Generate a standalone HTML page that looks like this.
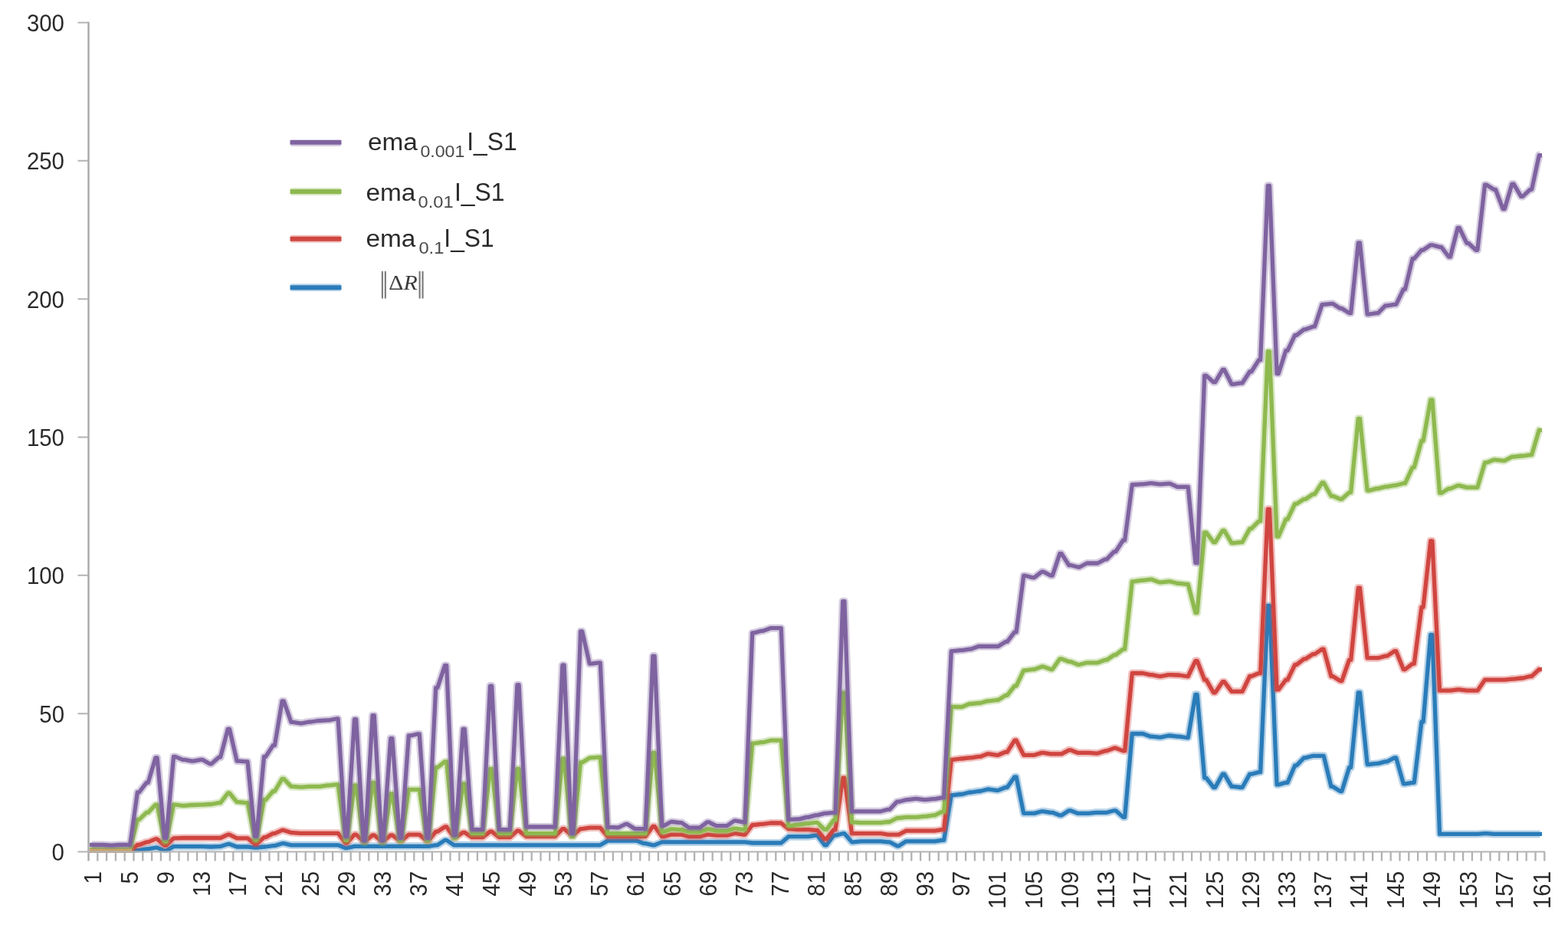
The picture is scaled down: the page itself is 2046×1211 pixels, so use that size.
<!DOCTYPE html>
<html lang="en">
<head>
<meta charset="utf-8">
<title>ema I_S1 chart</title>
<style>
html,body{margin:0;padding:0;background:#fff;}
body{width:2046px;height:1211px;overflow:hidden;}
svg{display:block;}
text{font-family:"Liberation Sans",sans-serif;fill:#2b2b2b;}
.ax{font-size:31px;}
.lg{font-size:31px;}
.sub{font-size:22px;fill:#4a4a4a;}
.cap{font-size:33px;}
.math{font-family:"Liberation Serif",serif;font-size:27.5px;fill:#3a3a3a;}
.bar{font-family:"DejaVu Sans","Liberation Sans",sans-serif;font-size:36px;fill:#777;}
.ln{fill:none;stroke-width:5.3;stroke-linejoin:round;stroke-linecap:square;}
.hl{stroke-width:10px;stroke-opacity:0.33;stroke-linecap:butt;}
</style>
</head>
<body>
<svg width="2046" height="1211" viewBox="0 0 2046 1211">
<defs><filter id="soft" x="-2%" y="-2%" width="104%" height="104%"><feGaussianBlur stdDeviation="0.55"/></filter><filter id="softa" x="-2%" y="-2%" width="104%" height="104%"><feGaussianBlur stdDeviation="0.7"/></filter><filter id="softt" x="-5%" y="-5%" width="110%" height="110%"><feGaussianBlur stdDeviation="0.6"/></filter><clipPath id="plot"><rect x="115.5" y="0" width="1930.5" height="1112.7"/></clipPath></defs>
<rect width="2046" height="1211" fill="#ffffff"/>
<g filter="url(#soft)" clip-path="url(#plot)">
<path class="ln hl" stroke="#2c7cb9" d="M119.7 1111.5 L122.5 1111.5 L132.1 1111.5 L134.3 1111.5 L143.9 1111.5 L146.1 1111.5 L155.7 1111.5 L157.9 1111.5 L167.5 1111.5 L169.7 1111.5 L179.3 1109.7 L181.5 1109.7 L191.1 1107.9 L193.3 1107.9 L202.9 1106.1 L205.1 1106.1 L214.7 1110.1 L216.9 1110.1 L226.5 1104.6 L228.7 1104.6 L238.3 1104.6 L240.5 1104.6 L250.1 1104.6 L252.3 1104.6 L261.9 1104.6 L264.1 1104.6 L273.7 1105.0 L275.9 1105.0 L285.5 1104.6 L287.7 1104.6 L297.3 1101.4 L299.5 1101.4 L309.1 1105.0 L311.3 1105.0 L320.9 1105.0 L323.1 1105.0 L332.7 1106.1 L334.9 1106.1 L344.5 1105.0 L346.7 1105.0 L356.3 1103.6 L358.5 1103.6 L368.1 1100.7 L370.3 1100.7 L379.9 1102.8 L382.1 1102.8 L391.7 1102.8 L393.9 1102.8 L403.5 1102.8 L405.7 1102.8 L415.3 1102.8 L417.5 1102.8 L427.1 1102.8 L429.3 1102.8 L438.9 1102.8 L441.1 1102.8 L450.7 1106.5 L452.9 1106.5 L462.5 1104.3 L464.7 1104.3 L474.3 1104.3 L476.5 1104.3 L486.1 1104.3 L488.3 1104.3 L497.9 1104.3 L500.1 1104.3 L509.7 1104.3 L511.9 1104.3 L521.5 1104.3 L523.7 1104.3 L533.3 1104.3 L535.5 1104.3 L545.1 1104.3 L547.3 1104.3 L556.9 1104.3 L559.1 1104.3 L568.7 1102.8 L570.9 1102.8 L580.5 1096.4 L582.7 1096.4 L592.3 1102.8 L594.5 1102.8 L604.1 1102.8 L606.3 1102.8 L615.9 1102.8 L618.1 1102.8 L627.7 1102.8 L629.9 1102.8 L639.5 1102.8 L641.7 1102.8 L651.3 1102.8 L653.5 1102.8 L663.1 1102.8 L665.3 1102.8 L674.9 1102.8 L677.1 1102.8 L686.7 1102.8 L688.9 1102.8 L698.5 1102.8 L700.7 1102.8 L710.3 1102.8 L712.5 1102.8 L722.1 1102.8 L724.3 1102.8 L733.9 1102.8 L736.1 1102.8 L745.7 1102.8 L747.9 1102.8 L757.5 1102.8 L759.7 1102.8 L769.3 1102.8 L771.5 1102.8 L781.1 1102.8 L783.3 1102.8 L792.9 1097.1 L795.1 1097.1 L804.7 1097.1 L806.9 1097.1 L816.5 1097.1 L818.7 1097.1 L828.3 1097.1 L830.5 1097.1 L840.1 1100.7 L842.3 1100.7 L851.9 1102.8 L854.1 1102.8 L863.7 1098.9 L865.9 1098.9 L875.5 1098.9 L877.7 1098.9 L887.3 1098.9 L889.5 1098.9 L899.1 1098.9 L901.3 1098.9 L910.9 1098.9 L913.1 1098.9 L922.7 1098.9 L924.9 1098.9 L934.5 1098.9 L936.7 1098.9 L946.3 1098.9 L948.5 1098.9 L958.1 1098.9 L960.3 1098.9 L969.9 1098.9 L972.1 1098.9 L981.7 1100.0 L983.9 1100.0 L993.5 1100.0 L995.7 1100.0 L1005.3 1100.0 L1007.5 1100.0 L1017.1 1100.0 L1019.3 1100.0 L1028.9 1091.7 L1031.1 1091.7 L1040.7 1091.7 L1042.9 1091.7 L1052.5 1091.7 L1054.7 1091.7 L1064.3 1090.2 L1066.5 1090.2 L1076.1 1102.8 L1078.3 1102.8 L1087.9 1090.2 L1090.1 1090.2 L1099.7 1087.7 L1101.9 1087.7 L1111.5 1098.9 L1113.7 1098.9 L1123.3 1097.8 L1125.5 1097.8 L1135.1 1097.8 L1137.3 1097.8 L1146.9 1097.8 L1149.1 1097.8 L1158.7 1098.9 L1160.9 1098.9 L1170.5 1103.9 L1172.7 1103.9 L1182.3 1097.8 L1184.5 1097.8 L1194.1 1097.8 L1196.3 1097.8 L1205.9 1097.8 L1208.1 1097.8 L1217.7 1097.8 L1219.9 1097.8 L1229.5 1096.4 L1231.7 1096.4 L1241.3 1037.6 L1243.5 1037.6 L1253.1 1036.5 L1255.3 1036.5 L1264.9 1034.0 L1267.1 1034.0 L1276.7 1032.5 L1278.9 1032.5 L1288.5 1030.0 L1290.7 1030.0 L1300.3 1031.4 L1302.5 1031.4 L1312.1 1027.5 L1314.3 1027.5 L1323.9 1013.8 L1326.1 1013.8 L1335.7 1061.4 L1337.9 1061.4 L1347.5 1061.4 L1349.7 1061.4 L1359.3 1058.8 L1361.5 1058.8 L1371.1 1060.3 L1373.3 1060.3 L1382.9 1063.9 L1385.1 1063.9 L1394.7 1057.8 L1396.9 1057.8 L1406.5 1061.4 L1408.7 1061.4 L1418.3 1061.4 L1420.5 1061.4 L1430.1 1060.3 L1432.3 1060.3 L1441.9 1060.3 L1444.1 1060.3 L1453.7 1057.8 L1455.9 1057.8 L1465.5 1066.4 L1467.7 1066.4 L1477.3 957.5 L1479.5 957.5 L1489.1 957.5 L1491.3 957.5 L1500.9 961.1 L1503.1 961.1 L1512.7 962.2 L1514.9 962.2 L1524.5 960.0 L1526.7 960.0 L1536.3 961.1 L1538.5 961.1 L1548.1 962.5 L1550.3 962.5 L1559.9 906.3 L1562.1 906.3 L1571.7 1015.2 L1573.9 1015.2 L1583.5 1027.5 L1585.7 1027.5 L1595.3 1010.2 L1597.5 1010.2 L1607.1 1026.4 L1609.3 1026.4 L1618.9 1027.5 L1621.1 1027.5 L1630.7 1010.2 L1632.9 1010.2 L1642.5 1007.6 L1644.7 1007.6 L1654.3 790.5 L1656.5 790.5 L1666.1 1023.9 L1668.3 1023.9 L1677.9 1021.3 L1680.1 1021.3 L1689.7 998.8 L1691.9 998.8 L1701.5 988.9 L1703.7 988.9 L1713.3 986.3 L1715.5 986.3 L1725.1 986.3 L1727.3 986.3 L1736.9 1026.4 L1739.1 1026.4 L1748.7 1032.5 L1750.9 1032.5 L1760.5 1001.5 L1762.7 1001.5 L1772.3 903.8 L1774.5 903.8 L1784.1 997.5 L1786.3 997.5 L1795.9 996.4 L1798.1 996.4 L1807.7 993.9 L1809.9 993.9 L1819.5 988.9 L1821.7 988.9 L1831.3 1022.8 L1833.5 1022.8 L1843.1 1021.3 L1845.3 1021.3 L1854.9 942.0 L1857.1 942.0 L1866.7 828.4 L1868.9 828.4 L1878.5 1088.4 L1880.7 1088.4 L1890.3 1088.4 L1892.5 1088.4 L1902.1 1088.4 L1904.3 1088.4 L1913.9 1088.4 L1916.1 1088.4 L1925.7 1088.4 L1927.9 1088.4 L1937.5 1087.7 L1939.7 1087.7 L1949.3 1088.4 L1951.5 1088.4 L1961.1 1088.4 L1963.3 1088.4 L1972.9 1088.4 L1975.1 1088.4 L1984.7 1088.4 L1986.9 1088.4 L1996.5 1088.4 L1998.7 1088.4 L2008.3 1088.4 L2009.4 1088.4"/>
<path class="ln" stroke="#2c7cb9" d="M119.7 1111.5 L122.5 1111.5 L132.1 1111.5 L134.3 1111.5 L143.9 1111.5 L146.1 1111.5 L155.7 1111.5 L157.9 1111.5 L167.5 1111.5 L169.7 1111.5 L179.3 1109.7 L181.5 1109.7 L191.1 1107.9 L193.3 1107.9 L202.9 1106.1 L205.1 1106.1 L214.7 1110.1 L216.9 1110.1 L226.5 1104.6 L228.7 1104.6 L238.3 1104.6 L240.5 1104.6 L250.1 1104.6 L252.3 1104.6 L261.9 1104.6 L264.1 1104.6 L273.7 1105.0 L275.9 1105.0 L285.5 1104.6 L287.7 1104.6 L297.3 1101.4 L299.5 1101.4 L309.1 1105.0 L311.3 1105.0 L320.9 1105.0 L323.1 1105.0 L332.7 1106.1 L334.9 1106.1 L344.5 1105.0 L346.7 1105.0 L356.3 1103.6 L358.5 1103.6 L368.1 1100.7 L370.3 1100.7 L379.9 1102.8 L382.1 1102.8 L391.7 1102.8 L393.9 1102.8 L403.5 1102.8 L405.7 1102.8 L415.3 1102.8 L417.5 1102.8 L427.1 1102.8 L429.3 1102.8 L438.9 1102.8 L441.1 1102.8 L450.7 1106.5 L452.9 1106.5 L462.5 1104.3 L464.7 1104.3 L474.3 1104.3 L476.5 1104.3 L486.1 1104.3 L488.3 1104.3 L497.9 1104.3 L500.1 1104.3 L509.7 1104.3 L511.9 1104.3 L521.5 1104.3 L523.7 1104.3 L533.3 1104.3 L535.5 1104.3 L545.1 1104.3 L547.3 1104.3 L556.9 1104.3 L559.1 1104.3 L568.7 1102.8 L570.9 1102.8 L580.5 1096.4 L582.7 1096.4 L592.3 1102.8 L594.5 1102.8 L604.1 1102.8 L606.3 1102.8 L615.9 1102.8 L618.1 1102.8 L627.7 1102.8 L629.9 1102.8 L639.5 1102.8 L641.7 1102.8 L651.3 1102.8 L653.5 1102.8 L663.1 1102.8 L665.3 1102.8 L674.9 1102.8 L677.1 1102.8 L686.7 1102.8 L688.9 1102.8 L698.5 1102.8 L700.7 1102.8 L710.3 1102.8 L712.5 1102.8 L722.1 1102.8 L724.3 1102.8 L733.9 1102.8 L736.1 1102.8 L745.7 1102.8 L747.9 1102.8 L757.5 1102.8 L759.7 1102.8 L769.3 1102.8 L771.5 1102.8 L781.1 1102.8 L783.3 1102.8 L792.9 1097.1 L795.1 1097.1 L804.7 1097.1 L806.9 1097.1 L816.5 1097.1 L818.7 1097.1 L828.3 1097.1 L830.5 1097.1 L840.1 1100.7 L842.3 1100.7 L851.9 1102.8 L854.1 1102.8 L863.7 1098.9 L865.9 1098.9 L875.5 1098.9 L877.7 1098.9 L887.3 1098.9 L889.5 1098.9 L899.1 1098.9 L901.3 1098.9 L910.9 1098.9 L913.1 1098.9 L922.7 1098.9 L924.9 1098.9 L934.5 1098.9 L936.7 1098.9 L946.3 1098.9 L948.5 1098.9 L958.1 1098.9 L960.3 1098.9 L969.9 1098.9 L972.1 1098.9 L981.7 1100.0 L983.9 1100.0 L993.5 1100.0 L995.7 1100.0 L1005.3 1100.0 L1007.5 1100.0 L1017.1 1100.0 L1019.3 1100.0 L1028.9 1091.7 L1031.1 1091.7 L1040.7 1091.7 L1042.9 1091.7 L1052.5 1091.7 L1054.7 1091.7 L1064.3 1090.2 L1066.5 1090.2 L1076.1 1102.8 L1078.3 1102.8 L1087.9 1090.2 L1090.1 1090.2 L1099.7 1087.7 L1101.9 1087.7 L1111.5 1098.9 L1113.7 1098.9 L1123.3 1097.8 L1125.5 1097.8 L1135.1 1097.8 L1137.3 1097.8 L1146.9 1097.8 L1149.1 1097.8 L1158.7 1098.9 L1160.9 1098.9 L1170.5 1103.9 L1172.7 1103.9 L1182.3 1097.8 L1184.5 1097.8 L1194.1 1097.8 L1196.3 1097.8 L1205.9 1097.8 L1208.1 1097.8 L1217.7 1097.8 L1219.9 1097.8 L1229.5 1096.4 L1231.7 1096.4 L1241.3 1037.6 L1243.5 1037.6 L1253.1 1036.5 L1255.3 1036.5 L1264.9 1034.0 L1267.1 1034.0 L1276.7 1032.5 L1278.9 1032.5 L1288.5 1030.0 L1290.7 1030.0 L1300.3 1031.4 L1302.5 1031.4 L1312.1 1027.5 L1314.3 1027.5 L1323.9 1013.8 L1326.1 1013.8 L1335.7 1061.4 L1337.9 1061.4 L1347.5 1061.4 L1349.7 1061.4 L1359.3 1058.8 L1361.5 1058.8 L1371.1 1060.3 L1373.3 1060.3 L1382.9 1063.9 L1385.1 1063.9 L1394.7 1057.8 L1396.9 1057.8 L1406.5 1061.4 L1408.7 1061.4 L1418.3 1061.4 L1420.5 1061.4 L1430.1 1060.3 L1432.3 1060.3 L1441.9 1060.3 L1444.1 1060.3 L1453.7 1057.8 L1455.9 1057.8 L1465.5 1066.4 L1467.7 1066.4 L1477.3 957.5 L1479.5 957.5 L1489.1 957.5 L1491.3 957.5 L1500.9 961.1 L1503.1 961.1 L1512.7 962.2 L1514.9 962.2 L1524.5 960.0 L1526.7 960.0 L1536.3 961.1 L1538.5 961.1 L1548.1 962.5 L1550.3 962.5 L1559.9 906.3 L1562.1 906.3 L1571.7 1015.2 L1573.9 1015.2 L1583.5 1027.5 L1585.7 1027.5 L1595.3 1010.2 L1597.5 1010.2 L1607.1 1026.4 L1609.3 1026.4 L1618.9 1027.5 L1621.1 1027.5 L1630.7 1010.2 L1632.9 1010.2 L1642.5 1007.6 L1644.7 1007.6 L1654.3 790.5 L1656.5 790.5 L1666.1 1023.9 L1668.3 1023.9 L1677.9 1021.3 L1680.1 1021.3 L1689.7 998.8 L1691.9 998.8 L1701.5 988.9 L1703.7 988.9 L1713.3 986.3 L1715.5 986.3 L1725.1 986.3 L1727.3 986.3 L1736.9 1026.4 L1739.1 1026.4 L1748.7 1032.5 L1750.9 1032.5 L1760.5 1001.5 L1762.7 1001.5 L1772.3 903.8 L1774.5 903.8 L1784.1 997.5 L1786.3 997.5 L1795.9 996.4 L1798.1 996.4 L1807.7 993.9 L1809.9 993.9 L1819.5 988.9 L1821.7 988.9 L1831.3 1022.8 L1833.5 1022.8 L1843.1 1021.3 L1845.3 1021.3 L1854.9 942.0 L1857.1 942.0 L1866.7 828.4 L1868.9 828.4 L1878.5 1088.4 L1880.7 1088.4 L1890.3 1088.4 L1892.5 1088.4 L1902.1 1088.4 L1904.3 1088.4 L1913.9 1088.4 L1916.1 1088.4 L1925.7 1088.4 L1927.9 1088.4 L1937.5 1087.7 L1939.7 1087.7 L1949.3 1088.4 L1951.5 1088.4 L1961.1 1088.4 L1963.3 1088.4 L1972.9 1088.4 L1975.1 1088.4 L1984.7 1088.4 L1986.9 1088.4 L1996.5 1088.4 L1998.7 1088.4 L2008.3 1088.4 L2009.4 1088.4"/>
<path class="ln hl" stroke="#d0443f" d="M119.7 1110.4 L122.5 1110.4 L132.1 1110.4 L134.3 1110.4 L143.9 1110.4 L146.1 1110.4 L155.7 1110.4 L157.9 1110.4 L167.5 1110.4 L169.7 1110.4 L179.3 1102.5 L181.5 1102.5 L191.1 1098.9 L193.3 1098.9 L202.9 1094.9 L205.1 1094.9 L214.7 1103.2 L216.9 1103.2 L226.5 1093.8 L228.7 1093.8 L238.3 1093.5 L240.5 1093.5 L250.1 1093.5 L252.3 1093.5 L261.9 1093.5 L264.1 1093.5 L273.7 1093.5 L275.9 1093.5 L285.5 1093.5 L287.7 1093.5 L297.3 1089.1 L299.5 1089.1 L309.1 1093.8 L311.3 1093.8 L320.9 1093.8 L323.1 1093.8 L332.7 1101.4 L334.9 1101.4 L344.5 1092.7 L346.7 1092.7 L356.3 1087.7 L358.5 1087.7 L368.1 1083.4 L370.3 1083.4 L379.9 1086.6 L382.1 1086.6 L391.7 1087.3 L393.9 1087.3 L403.5 1087.3 L405.7 1087.3 L415.3 1087.3 L417.5 1087.3 L427.1 1087.3 L429.3 1087.3 L438.9 1087.3 L441.1 1087.3 L450.7 1100.0 L452.9 1100.0 L462.5 1089.1 L464.7 1089.1 L474.3 1097.8 L476.5 1097.8 L486.1 1089.9 L488.3 1089.9 L497.9 1097.8 L500.1 1097.8 L509.7 1089.9 L511.9 1089.9 L521.5 1097.1 L523.7 1097.1 L533.3 1089.1 L535.5 1089.1 L545.1 1089.1 L547.3 1089.1 L556.9 1097.1 L559.1 1097.1 L568.7 1085.2 L570.9 1085.2 L580.5 1079.0 L582.7 1079.0 L592.3 1092.7 L594.5 1092.7 L604.1 1086.3 L606.3 1086.3 L615.9 1092.7 L618.1 1092.7 L627.7 1092.7 L629.9 1092.7 L639.5 1085.2 L641.7 1085.2 L651.3 1092.7 L653.5 1092.7 L663.1 1092.7 L665.3 1092.7 L674.9 1084.1 L677.1 1084.1 L686.7 1091.7 L688.9 1091.7 L698.5 1091.7 L700.7 1091.7 L710.3 1091.7 L712.5 1091.7 L722.1 1091.7 L724.3 1091.7 L733.9 1081.6 L736.1 1081.6 L745.7 1089.9 L747.9 1089.9 L757.5 1081.6 L759.7 1081.6 L769.3 1080.1 L771.5 1080.1 L781.1 1080.1 L783.3 1080.1 L792.9 1091.7 L795.1 1091.7 L804.7 1091.7 L806.9 1091.7 L816.5 1091.7 L818.7 1091.7 L828.3 1091.7 L830.5 1091.7 L840.1 1091.7 L842.3 1091.7 L851.9 1078.3 L854.1 1078.3 L863.7 1091.7 L865.9 1091.7 L875.5 1089.1 L877.7 1089.1 L887.3 1089.1 L889.5 1089.1 L899.1 1091.7 L901.3 1091.7 L910.9 1091.7 L913.1 1091.7 L922.7 1089.1 L924.9 1089.1 L934.5 1090.2 L936.7 1090.2 L946.3 1090.2 L948.5 1090.2 L958.1 1087.7 L960.3 1087.7 L969.9 1089.1 L972.1 1089.1 L981.7 1076.5 L983.9 1076.5 L993.5 1075.4 L995.7 1075.4 L1005.3 1074.0 L1007.5 1074.0 L1017.1 1074.0 L1019.3 1074.0 L1028.9 1081.9 L1031.1 1081.9 L1040.7 1082.6 L1042.9 1082.6 L1052.5 1082.6 L1054.7 1082.6 L1064.3 1083.4 L1066.5 1083.4 L1076.1 1094.9 L1078.3 1094.9 L1087.9 1082.6 L1090.1 1082.6 L1099.7 1015.2 L1101.9 1015.2 L1111.5 1087.7 L1113.7 1087.7 L1123.3 1087.7 L1125.5 1087.7 L1135.1 1087.7 L1137.3 1087.7 L1146.9 1087.7 L1149.1 1087.7 L1158.7 1089.1 L1160.9 1089.1 L1170.5 1089.1 L1172.7 1089.1 L1182.3 1084.1 L1184.5 1084.1 L1194.1 1084.1 L1196.3 1084.1 L1205.9 1084.1 L1208.1 1084.1 L1217.7 1084.1 L1219.9 1084.1 L1229.5 1082.6 L1231.7 1082.6 L1241.3 991.4 L1243.5 991.4 L1253.1 990.0 L1255.3 990.0 L1264.9 988.9 L1267.1 988.9 L1276.7 987.4 L1278.9 987.4 L1288.5 983.8 L1290.7 983.8 L1300.3 985.3 L1302.5 985.3 L1312.1 981.3 L1314.3 981.3 L1323.9 966.2 L1326.1 966.2 L1335.7 985.3 L1337.9 985.3 L1347.5 985.3 L1349.7 985.3 L1359.3 982.4 L1361.5 982.4 L1371.1 983.8 L1373.3 983.8 L1382.9 983.8 L1385.1 983.8 L1394.7 978.8 L1396.9 978.8 L1406.5 982.4 L1408.7 982.4 L1418.3 982.4 L1420.5 982.4 L1430.1 983.1 L1432.3 983.1 L1441.9 979.9 L1444.1 979.9 L1453.7 976.2 L1455.9 976.2 L1465.5 979.9 L1467.7 979.9 L1477.3 878.5 L1479.5 878.5 L1489.1 878.5 L1491.3 878.5 L1500.9 880.7 L1503.1 880.7 L1512.7 882.5 L1514.9 882.5 L1524.5 880.7 L1526.7 880.7 L1536.3 881.0 L1538.5 881.0 L1548.1 882.5 L1550.3 882.5 L1559.9 862.3 L1562.1 862.3 L1571.7 887.2 L1573.9 887.2 L1583.5 903.8 L1585.7 903.8 L1595.3 889.7 L1597.5 889.7 L1607.1 902.3 L1609.3 902.3 L1618.9 902.3 L1621.1 902.3 L1630.7 882.5 L1632.9 882.5 L1642.5 878.5 L1644.7 878.5 L1654.3 664.3 L1656.5 664.3 L1666.1 899.8 L1668.3 899.8 L1677.9 887.2 L1680.1 887.2 L1689.7 867.3 L1691.9 867.3 L1701.5 859.8 L1703.7 859.8 L1713.3 853.6 L1715.5 853.6 L1725.1 847.1 L1727.3 847.1 L1736.9 882.5 L1739.1 882.5 L1748.7 888.6 L1750.9 888.6 L1760.5 861.2 L1762.7 861.2 L1772.3 767.1 L1774.5 767.1 L1784.1 858.7 L1786.3 858.7 L1795.9 858.7 L1798.1 858.7 L1807.7 856.1 L1809.9 856.1 L1819.5 849.7 L1821.7 849.7 L1831.3 873.5 L1833.5 873.5 L1843.1 866.2 L1845.3 866.2 L1854.9 792.3 L1857.1 792.3 L1866.7 705.8 L1868.9 705.8 L1878.5 901.2 L1880.7 901.2 L1890.3 901.2 L1892.5 901.2 L1902.1 899.8 L1904.3 899.8 L1913.9 901.2 L1916.1 901.2 L1925.7 901.2 L1927.9 901.2 L1937.5 887.2 L1939.7 887.2 L1949.3 887.2 L1951.5 887.2 L1961.1 887.2 L1963.3 887.2 L1972.9 886.1 L1975.1 886.1 L1984.7 885.0 L1986.9 885.0 L1996.5 882.5 L1998.7 882.5 L2008.3 873.5 L2009.4 873.5"/>
<path class="ln" stroke="#d0443f" d="M119.7 1110.4 L122.5 1110.4 L132.1 1110.4 L134.3 1110.4 L143.9 1110.4 L146.1 1110.4 L155.7 1110.4 L157.9 1110.4 L167.5 1110.4 L169.7 1110.4 L179.3 1102.5 L181.5 1102.5 L191.1 1098.9 L193.3 1098.9 L202.9 1094.9 L205.1 1094.9 L214.7 1103.2 L216.9 1103.2 L226.5 1093.8 L228.7 1093.8 L238.3 1093.5 L240.5 1093.5 L250.1 1093.5 L252.3 1093.5 L261.9 1093.5 L264.1 1093.5 L273.7 1093.5 L275.9 1093.5 L285.5 1093.5 L287.7 1093.5 L297.3 1089.1 L299.5 1089.1 L309.1 1093.8 L311.3 1093.8 L320.9 1093.8 L323.1 1093.8 L332.7 1101.4 L334.9 1101.4 L344.5 1092.7 L346.7 1092.7 L356.3 1087.7 L358.5 1087.7 L368.1 1083.4 L370.3 1083.4 L379.9 1086.6 L382.1 1086.6 L391.7 1087.3 L393.9 1087.3 L403.5 1087.3 L405.7 1087.3 L415.3 1087.3 L417.5 1087.3 L427.1 1087.3 L429.3 1087.3 L438.9 1087.3 L441.1 1087.3 L450.7 1100.0 L452.9 1100.0 L462.5 1089.1 L464.7 1089.1 L474.3 1097.8 L476.5 1097.8 L486.1 1089.9 L488.3 1089.9 L497.9 1097.8 L500.1 1097.8 L509.7 1089.9 L511.9 1089.9 L521.5 1097.1 L523.7 1097.1 L533.3 1089.1 L535.5 1089.1 L545.1 1089.1 L547.3 1089.1 L556.9 1097.1 L559.1 1097.1 L568.7 1085.2 L570.9 1085.2 L580.5 1079.0 L582.7 1079.0 L592.3 1092.7 L594.5 1092.7 L604.1 1086.3 L606.3 1086.3 L615.9 1092.7 L618.1 1092.7 L627.7 1092.7 L629.9 1092.7 L639.5 1085.2 L641.7 1085.2 L651.3 1092.7 L653.5 1092.7 L663.1 1092.7 L665.3 1092.7 L674.9 1084.1 L677.1 1084.1 L686.7 1091.7 L688.9 1091.7 L698.5 1091.7 L700.7 1091.7 L710.3 1091.7 L712.5 1091.7 L722.1 1091.7 L724.3 1091.7 L733.9 1081.6 L736.1 1081.6 L745.7 1089.9 L747.9 1089.9 L757.5 1081.6 L759.7 1081.6 L769.3 1080.1 L771.5 1080.1 L781.1 1080.1 L783.3 1080.1 L792.9 1091.7 L795.1 1091.7 L804.7 1091.7 L806.9 1091.7 L816.5 1091.7 L818.7 1091.7 L828.3 1091.7 L830.5 1091.7 L840.1 1091.7 L842.3 1091.7 L851.9 1078.3 L854.1 1078.3 L863.7 1091.7 L865.9 1091.7 L875.5 1089.1 L877.7 1089.1 L887.3 1089.1 L889.5 1089.1 L899.1 1091.7 L901.3 1091.7 L910.9 1091.7 L913.1 1091.7 L922.7 1089.1 L924.9 1089.1 L934.5 1090.2 L936.7 1090.2 L946.3 1090.2 L948.5 1090.2 L958.1 1087.7 L960.3 1087.7 L969.9 1089.1 L972.1 1089.1 L981.7 1076.5 L983.9 1076.5 L993.5 1075.4 L995.7 1075.4 L1005.3 1074.0 L1007.5 1074.0 L1017.1 1074.0 L1019.3 1074.0 L1028.9 1081.9 L1031.1 1081.9 L1040.7 1082.6 L1042.9 1082.6 L1052.5 1082.6 L1054.7 1082.6 L1064.3 1083.4 L1066.5 1083.4 L1076.1 1094.9 L1078.3 1094.9 L1087.9 1082.6 L1090.1 1082.6 L1099.7 1015.2 L1101.9 1015.2 L1111.5 1087.7 L1113.7 1087.7 L1123.3 1087.7 L1125.5 1087.7 L1135.1 1087.7 L1137.3 1087.7 L1146.9 1087.7 L1149.1 1087.7 L1158.7 1089.1 L1160.9 1089.1 L1170.5 1089.1 L1172.7 1089.1 L1182.3 1084.1 L1184.5 1084.1 L1194.1 1084.1 L1196.3 1084.1 L1205.9 1084.1 L1208.1 1084.1 L1217.7 1084.1 L1219.9 1084.1 L1229.5 1082.6 L1231.7 1082.6 L1241.3 991.4 L1243.5 991.4 L1253.1 990.0 L1255.3 990.0 L1264.9 988.9 L1267.1 988.9 L1276.7 987.4 L1278.9 987.4 L1288.5 983.8 L1290.7 983.8 L1300.3 985.3 L1302.5 985.3 L1312.1 981.3 L1314.3 981.3 L1323.9 966.2 L1326.1 966.2 L1335.7 985.3 L1337.9 985.3 L1347.5 985.3 L1349.7 985.3 L1359.3 982.4 L1361.5 982.4 L1371.1 983.8 L1373.3 983.8 L1382.9 983.8 L1385.1 983.8 L1394.7 978.8 L1396.9 978.8 L1406.5 982.4 L1408.7 982.4 L1418.3 982.4 L1420.5 982.4 L1430.1 983.1 L1432.3 983.1 L1441.9 979.9 L1444.1 979.9 L1453.7 976.2 L1455.9 976.2 L1465.5 979.9 L1467.7 979.9 L1477.3 878.5 L1479.5 878.5 L1489.1 878.5 L1491.3 878.5 L1500.9 880.7 L1503.1 880.7 L1512.7 882.5 L1514.9 882.5 L1524.5 880.7 L1526.7 880.7 L1536.3 881.0 L1538.5 881.0 L1548.1 882.5 L1550.3 882.5 L1559.9 862.3 L1562.1 862.3 L1571.7 887.2 L1573.9 887.2 L1583.5 903.8 L1585.7 903.8 L1595.3 889.7 L1597.5 889.7 L1607.1 902.3 L1609.3 902.3 L1618.9 902.3 L1621.1 902.3 L1630.7 882.5 L1632.9 882.5 L1642.5 878.5 L1644.7 878.5 L1654.3 664.3 L1656.5 664.3 L1666.1 899.8 L1668.3 899.8 L1677.9 887.2 L1680.1 887.2 L1689.7 867.3 L1691.9 867.3 L1701.5 859.8 L1703.7 859.8 L1713.3 853.6 L1715.5 853.6 L1725.1 847.1 L1727.3 847.1 L1736.9 882.5 L1739.1 882.5 L1748.7 888.6 L1750.9 888.6 L1760.5 861.2 L1762.7 861.2 L1772.3 767.1 L1774.5 767.1 L1784.1 858.7 L1786.3 858.7 L1795.9 858.7 L1798.1 858.7 L1807.7 856.1 L1809.9 856.1 L1819.5 849.7 L1821.7 849.7 L1831.3 873.5 L1833.5 873.5 L1843.1 866.2 L1845.3 866.2 L1854.9 792.3 L1857.1 792.3 L1866.7 705.8 L1868.9 705.8 L1878.5 901.2 L1880.7 901.2 L1890.3 901.2 L1892.5 901.2 L1902.1 899.8 L1904.3 899.8 L1913.9 901.2 L1916.1 901.2 L1925.7 901.2 L1927.9 901.2 L1937.5 887.2 L1939.7 887.2 L1949.3 887.2 L1951.5 887.2 L1961.1 887.2 L1963.3 887.2 L1972.9 886.1 L1975.1 886.1 L1984.7 885.0 L1986.9 885.0 L1996.5 882.5 L1998.7 882.5 L2008.3 873.5 L2009.4 873.5"/>
<path class="ln hl" stroke="#8eb94f" d="M119.7 1108.3 L122.5 1108.3 L132.1 1108.3 L134.3 1108.3 L143.9 1108.3 L146.1 1108.3 L155.7 1108.3 L157.9 1108.3 L167.5 1108.3 L169.7 1108.3 L179.3 1069.7 L181.5 1069.7 L191.1 1060.3 L193.3 1060.3 L202.9 1050.2 L205.1 1050.2 L214.7 1098.2 L216.9 1098.2 L226.5 1050.2 L228.7 1050.2 L238.3 1051.3 L240.5 1051.3 L250.1 1050.5 L252.3 1050.5 L261.9 1050.2 L264.1 1050.2 L273.7 1049.5 L275.9 1049.5 L285.5 1047.7 L287.7 1047.7 L297.3 1035.0 L299.5 1035.0 L309.1 1046.6 L311.3 1046.6 L320.9 1047.7 L323.1 1047.7 L332.7 1096.0 L334.9 1096.0 L344.5 1043.7 L346.7 1043.7 L356.3 1032.5 L358.5 1032.5 L368.1 1016.3 L370.3 1016.3 L379.9 1026.4 L382.1 1026.4 L391.7 1027.1 L393.9 1027.1 L403.5 1026.4 L405.7 1026.4 L415.3 1026.4 L417.5 1026.4 L427.1 1024.9 L429.3 1024.9 L438.9 1023.9 L441.1 1023.9 L450.7 1096.4 L452.9 1096.4 L462.5 1024.9 L464.7 1024.9 L474.3 1098.9 L476.5 1098.9 L486.1 1021.3 L488.3 1021.3 L497.9 1098.9 L500.1 1098.9 L509.7 1035.8 L511.9 1035.8 L521.5 1097.1 L523.7 1097.1 L533.3 1030.3 L535.5 1030.3 L545.1 1030.3 L547.3 1030.3 L556.9 1097.1 L559.1 1097.1 L568.7 1001.5 L570.9 1001.5 L580.5 993.9 L582.7 993.9 L592.3 1093.5 L594.5 1093.5 L604.1 1022.8 L606.3 1022.8 L615.9 1087.7 L618.1 1087.7 L627.7 1087.7 L629.9 1087.7 L639.5 1003.3 L641.7 1003.3 L651.3 1087.7 L653.5 1087.7 L663.1 1087.7 L665.3 1087.7 L674.9 1003.3 L677.1 1003.3 L686.7 1087.7 L688.9 1087.7 L698.5 1087.7 L700.7 1087.7 L710.3 1087.7 L712.5 1087.7 L722.1 1087.7 L724.3 1087.7 L733.9 990.0 L736.1 990.0 L745.7 1091.7 L747.9 1091.7 L757.5 995.0 L759.7 995.0 L769.3 988.9 L771.5 988.9 L781.1 988.2 L783.3 988.2 L792.9 1087.7 L795.1 1087.7 L804.7 1087.7 L806.9 1087.7 L816.5 1087.7 L818.7 1087.7 L828.3 1087.7 L830.5 1087.7 L840.1 1087.7 L842.3 1087.7 L851.9 982.4 L854.1 982.4 L863.7 1085.5 L865.9 1085.5 L875.5 1081.9 L877.7 1081.9 L887.3 1082.6 L889.5 1082.6 L899.1 1085.5 L901.3 1085.5 L910.9 1085.5 L913.1 1085.5 L922.7 1081.9 L924.9 1081.9 L934.5 1084.1 L936.7 1084.1 L946.3 1084.1 L948.5 1084.1 L958.1 1081.2 L960.3 1081.2 L969.9 1082.6 L972.1 1082.6 L981.7 970.1 L983.9 970.1 L993.5 968.7 L995.7 968.7 L1005.3 966.2 L1007.5 966.2 L1017.1 966.2 L1019.3 966.2 L1028.9 1077.6 L1031.1 1077.6 L1040.7 1076.2 L1042.9 1076.2 L1052.5 1074.7 L1054.7 1074.7 L1064.3 1073.3 L1066.5 1073.3 L1076.1 1082.6 L1078.3 1082.6 L1087.9 1070.0 L1090.1 1070.0 L1099.7 904.1 L1101.9 904.1 L1111.5 1072.9 L1113.7 1072.9 L1123.3 1073.6 L1125.5 1073.6 L1135.1 1073.6 L1137.3 1073.6 L1146.9 1073.6 L1149.1 1073.6 L1158.7 1072.5 L1160.9 1072.5 L1170.5 1067.5 L1172.7 1067.5 L1182.3 1066.4 L1184.5 1066.4 L1194.1 1066.4 L1196.3 1066.4 L1205.9 1065.3 L1208.1 1065.3 L1217.7 1063.9 L1219.9 1063.9 L1229.5 1059.2 L1231.7 1059.2 L1241.3 922.5 L1243.5 922.5 L1253.1 922.5 L1255.3 922.5 L1264.9 918.5 L1267.1 918.5 L1276.7 917.5 L1278.9 917.5 L1288.5 914.9 L1290.7 914.9 L1300.3 913.5 L1302.5 913.5 L1312.1 907.4 L1314.3 907.4 L1323.9 895.1 L1326.1 895.1 L1335.7 874.9 L1337.9 874.9 L1347.5 873.5 L1349.7 873.5 L1359.3 869.9 L1361.5 869.9 L1371.1 873.5 L1373.3 873.5 L1382.9 859.8 L1385.1 859.8 L1394.7 863.4 L1396.9 863.4 L1406.5 867.3 L1408.7 867.3 L1418.3 864.8 L1420.5 864.8 L1430.1 864.8 L1432.3 864.8 L1441.9 861.2 L1444.1 861.2 L1453.7 854.7 L1455.9 854.7 L1465.5 847.1 L1467.7 847.1 L1477.3 758.8 L1479.5 758.8 L1489.1 757.3 L1491.3 757.3 L1500.9 756.2 L1503.1 756.2 L1512.7 759.9 L1514.9 759.9 L1524.5 758.8 L1526.7 758.8 L1536.3 761.3 L1538.5 761.3 L1548.1 762.4 L1550.3 762.4 L1559.9 799.5 L1562.1 799.5 L1571.7 694.9 L1573.9 694.9 L1583.5 707.6 L1585.7 707.6 L1595.3 692.4 L1597.5 692.4 L1607.1 708.6 L1609.3 708.6 L1618.9 707.6 L1621.1 707.6 L1630.7 689.9 L1632.9 689.9 L1642.5 680.1 L1644.7 680.1 L1654.3 458.7 L1656.5 458.7 L1666.1 700.0 L1668.3 700.0 L1677.9 677.6 L1680.1 677.6 L1689.7 657.4 L1691.9 657.4 L1701.5 651.3 L1703.7 651.3 L1713.3 644.8 L1715.5 644.8 L1725.1 630.0 L1727.3 630.0 L1736.9 647.3 L1739.1 647.3 L1748.7 651.3 L1750.9 651.3 L1760.5 642.6 L1762.7 642.6 L1772.3 546.3 L1774.5 546.3 L1784.1 640.1 L1786.3 640.1 L1795.9 637.6 L1798.1 637.6 L1807.7 635.1 L1809.9 635.1 L1819.5 633.3 L1821.7 633.3 L1831.3 630.7 L1833.5 630.7 L1843.1 609.8 L1845.3 609.8 L1854.9 575.2 L1857.1 575.2 L1866.7 521.8 L1868.9 521.8 L1878.5 643.4 L1880.7 643.4 L1890.3 637.6 L1892.5 637.6 L1902.1 633.6 L1904.3 633.6 L1913.9 636.1 L1916.1 636.1 L1925.7 636.1 L1927.9 636.1 L1937.5 603.7 L1939.7 603.7 L1949.3 600.1 L1951.5 600.1 L1961.1 601.2 L1963.3 601.2 L1972.9 596.1 L1975.1 596.1 L1984.7 595.0 L1986.9 595.0 L1996.5 593.6 L1998.7 593.6 L2008.3 561.1 L2009.4 561.1"/>
<path class="ln" stroke="#8eb94f" d="M119.7 1108.3 L122.5 1108.3 L132.1 1108.3 L134.3 1108.3 L143.9 1108.3 L146.1 1108.3 L155.7 1108.3 L157.9 1108.3 L167.5 1108.3 L169.7 1108.3 L179.3 1069.7 L181.5 1069.7 L191.1 1060.3 L193.3 1060.3 L202.9 1050.2 L205.1 1050.2 L214.7 1098.2 L216.9 1098.2 L226.5 1050.2 L228.7 1050.2 L238.3 1051.3 L240.5 1051.3 L250.1 1050.5 L252.3 1050.5 L261.9 1050.2 L264.1 1050.2 L273.7 1049.5 L275.9 1049.5 L285.5 1047.7 L287.7 1047.7 L297.3 1035.0 L299.5 1035.0 L309.1 1046.6 L311.3 1046.6 L320.9 1047.7 L323.1 1047.7 L332.7 1096.0 L334.9 1096.0 L344.5 1043.7 L346.7 1043.7 L356.3 1032.5 L358.5 1032.5 L368.1 1016.3 L370.3 1016.3 L379.9 1026.4 L382.1 1026.4 L391.7 1027.1 L393.9 1027.1 L403.5 1026.4 L405.7 1026.4 L415.3 1026.4 L417.5 1026.4 L427.1 1024.9 L429.3 1024.9 L438.9 1023.9 L441.1 1023.9 L450.7 1096.4 L452.9 1096.4 L462.5 1024.9 L464.7 1024.9 L474.3 1098.9 L476.5 1098.9 L486.1 1021.3 L488.3 1021.3 L497.9 1098.9 L500.1 1098.9 L509.7 1035.8 L511.9 1035.8 L521.5 1097.1 L523.7 1097.1 L533.3 1030.3 L535.5 1030.3 L545.1 1030.3 L547.3 1030.3 L556.9 1097.1 L559.1 1097.1 L568.7 1001.5 L570.9 1001.5 L580.5 993.9 L582.7 993.9 L592.3 1093.5 L594.5 1093.5 L604.1 1022.8 L606.3 1022.8 L615.9 1087.7 L618.1 1087.7 L627.7 1087.7 L629.9 1087.7 L639.5 1003.3 L641.7 1003.3 L651.3 1087.7 L653.5 1087.7 L663.1 1087.7 L665.3 1087.7 L674.9 1003.3 L677.1 1003.3 L686.7 1087.7 L688.9 1087.7 L698.5 1087.7 L700.7 1087.7 L710.3 1087.7 L712.5 1087.7 L722.1 1087.7 L724.3 1087.7 L733.9 990.0 L736.1 990.0 L745.7 1091.7 L747.9 1091.7 L757.5 995.0 L759.7 995.0 L769.3 988.9 L771.5 988.9 L781.1 988.2 L783.3 988.2 L792.9 1087.7 L795.1 1087.7 L804.7 1087.7 L806.9 1087.7 L816.5 1087.7 L818.7 1087.7 L828.3 1087.7 L830.5 1087.7 L840.1 1087.7 L842.3 1087.7 L851.9 982.4 L854.1 982.4 L863.7 1085.5 L865.9 1085.5 L875.5 1081.9 L877.7 1081.9 L887.3 1082.6 L889.5 1082.6 L899.1 1085.5 L901.3 1085.5 L910.9 1085.5 L913.1 1085.5 L922.7 1081.9 L924.9 1081.9 L934.5 1084.1 L936.7 1084.1 L946.3 1084.1 L948.5 1084.1 L958.1 1081.2 L960.3 1081.2 L969.9 1082.6 L972.1 1082.6 L981.7 970.1 L983.9 970.1 L993.5 968.7 L995.7 968.7 L1005.3 966.2 L1007.5 966.2 L1017.1 966.2 L1019.3 966.2 L1028.9 1077.6 L1031.1 1077.6 L1040.7 1076.2 L1042.9 1076.2 L1052.5 1074.7 L1054.7 1074.7 L1064.3 1073.3 L1066.5 1073.3 L1076.1 1082.6 L1078.3 1082.6 L1087.9 1070.0 L1090.1 1070.0 L1099.7 904.1 L1101.9 904.1 L1111.5 1072.9 L1113.7 1072.9 L1123.3 1073.6 L1125.5 1073.6 L1135.1 1073.6 L1137.3 1073.6 L1146.9 1073.6 L1149.1 1073.6 L1158.7 1072.5 L1160.9 1072.5 L1170.5 1067.5 L1172.7 1067.5 L1182.3 1066.4 L1184.5 1066.4 L1194.1 1066.4 L1196.3 1066.4 L1205.9 1065.3 L1208.1 1065.3 L1217.7 1063.9 L1219.9 1063.9 L1229.5 1059.2 L1231.7 1059.2 L1241.3 922.5 L1243.5 922.5 L1253.1 922.5 L1255.3 922.5 L1264.9 918.5 L1267.1 918.5 L1276.7 917.5 L1278.9 917.5 L1288.5 914.9 L1290.7 914.9 L1300.3 913.5 L1302.5 913.5 L1312.1 907.4 L1314.3 907.4 L1323.9 895.1 L1326.1 895.1 L1335.7 874.9 L1337.9 874.9 L1347.5 873.5 L1349.7 873.5 L1359.3 869.9 L1361.5 869.9 L1371.1 873.5 L1373.3 873.5 L1382.9 859.8 L1385.1 859.8 L1394.7 863.4 L1396.9 863.4 L1406.5 867.3 L1408.7 867.3 L1418.3 864.8 L1420.5 864.8 L1430.1 864.8 L1432.3 864.8 L1441.9 861.2 L1444.1 861.2 L1453.7 854.7 L1455.9 854.7 L1465.5 847.1 L1467.7 847.1 L1477.3 758.8 L1479.5 758.8 L1489.1 757.3 L1491.3 757.3 L1500.9 756.2 L1503.1 756.2 L1512.7 759.9 L1514.9 759.9 L1524.5 758.8 L1526.7 758.8 L1536.3 761.3 L1538.5 761.3 L1548.1 762.4 L1550.3 762.4 L1559.9 799.5 L1562.1 799.5 L1571.7 694.9 L1573.9 694.9 L1583.5 707.6 L1585.7 707.6 L1595.3 692.4 L1597.5 692.4 L1607.1 708.6 L1609.3 708.6 L1618.9 707.6 L1621.1 707.6 L1630.7 689.9 L1632.9 689.9 L1642.5 680.1 L1644.7 680.1 L1654.3 458.7 L1656.5 458.7 L1666.1 700.0 L1668.3 700.0 L1677.9 677.6 L1680.1 677.6 L1689.7 657.4 L1691.9 657.4 L1701.5 651.3 L1703.7 651.3 L1713.3 644.8 L1715.5 644.8 L1725.1 630.0 L1727.3 630.0 L1736.9 647.3 L1739.1 647.3 L1748.7 651.3 L1750.9 651.3 L1760.5 642.6 L1762.7 642.6 L1772.3 546.3 L1774.5 546.3 L1784.1 640.1 L1786.3 640.1 L1795.9 637.6 L1798.1 637.6 L1807.7 635.1 L1809.9 635.1 L1819.5 633.3 L1821.7 633.3 L1831.3 630.7 L1833.5 630.7 L1843.1 609.8 L1845.3 609.8 L1854.9 575.2 L1857.1 575.2 L1866.7 521.8 L1868.9 521.8 L1878.5 643.4 L1880.7 643.4 L1890.3 637.6 L1892.5 637.6 L1902.1 633.6 L1904.3 633.6 L1913.9 636.1 L1916.1 636.1 L1925.7 636.1 L1927.9 636.1 L1937.5 603.7 L1939.7 603.7 L1949.3 600.1 L1951.5 600.1 L1961.1 601.2 L1963.3 601.2 L1972.9 596.1 L1975.1 596.1 L1984.7 595.0 L1986.9 595.0 L1996.5 593.6 L1998.7 593.6 L2008.3 561.1 L2009.4 561.1"/>
<path fill="none" stroke="#c9a468" stroke-width="4.6" d="M117.0 1109.8 H172.1"/>
<path class="ln hl" stroke="#7f64a0" d="M119.7 1102.5 L122.5 1102.5 L132.1 1102.5 L134.3 1102.5 L143.9 1103.2 L146.1 1103.2 L155.7 1102.5 L157.9 1102.5 L167.5 1102.5 L169.7 1102.5 L179.3 1034.0 L181.5 1034.0 L191.1 1021.3 L193.3 1021.3 L202.9 988.9 L205.1 988.9 L214.7 1093.5 L216.9 1093.5 L226.5 987.4 L228.7 987.4 L238.3 991.4 L240.5 991.4 L250.1 993.2 L252.3 993.2 L261.9 991.4 L264.1 991.4 L273.7 996.8 L275.9 996.8 L285.5 988.2 L287.7 988.2 L297.3 951.4 L299.5 951.4 L309.1 993.2 L311.3 993.2 L320.9 993.9 L323.1 993.9 L332.7 1091.3 L334.9 1091.3 L344.5 987.4 L346.7 987.4 L356.3 972.6 L358.5 972.6 L368.1 914.9 L370.3 914.9 L379.9 942.3 L382.1 942.3 L391.7 943.8 L393.9 943.8 L403.5 942.0 L405.7 942.0 L415.3 940.5 L417.5 940.5 L427.1 939.8 L429.3 939.8 L438.9 938.0 L441.1 938.0 L450.7 1091.7 L452.9 1091.7 L462.5 938.7 L464.7 938.7 L474.3 1097.1 L476.5 1097.1 L486.1 933.7 L488.3 933.7 L497.9 1097.1 L500.1 1097.1 L509.7 963.6 L511.9 963.6 L521.5 1093.5 L523.7 1093.5 L533.3 960.0 L535.5 960.0 L545.1 957.9 L547.3 957.9 L556.9 1093.5 L559.1 1093.5 L568.7 897.3 L570.9 897.3 L580.5 868.4 L582.7 868.4 L592.3 1089.9 L594.5 1089.9 L604.1 951.4 L606.3 951.4 L615.9 1082.6 L618.1 1082.6 L627.7 1082.6 L629.9 1082.6 L639.5 895.1 L641.7 895.1 L651.3 1082.6 L653.5 1082.6 L663.1 1082.6 L665.3 1082.6 L674.9 893.7 L677.1 893.7 L686.7 1079.0 L688.9 1079.0 L698.5 1079.0 L700.7 1079.0 L710.3 1079.0 L712.5 1079.0 L722.1 1079.0 L724.3 1079.0 L733.9 868.0 L736.1 868.0 L745.7 1087.7 L747.9 1087.7 L757.5 824.0 L759.7 824.0 L769.3 866.2 L771.5 866.2 L781.1 864.8 L783.3 864.8 L792.9 1079.4 L795.1 1079.4 L804.7 1079.8 L806.9 1079.8 L816.5 1075.4 L818.7 1075.4 L828.3 1081.6 L830.5 1081.6 L840.1 1081.6 L842.3 1081.6 L851.9 856.1 L854.1 856.1 L863.7 1077.6 L865.9 1077.6 L875.5 1072.5 L877.7 1072.5 L887.3 1073.6 L889.5 1073.6 L899.1 1080.1 L901.3 1080.1 L910.9 1080.1 L913.1 1080.1 L922.7 1072.9 L924.9 1072.9 L934.5 1077.6 L936.7 1077.6 L946.3 1077.6 L948.5 1077.6 L958.1 1071.1 L960.3 1071.1 L969.9 1072.9 L972.1 1072.9 L981.7 825.9 L983.9 825.9 L993.5 823.3 L995.7 823.3 L1005.3 819.7 L1007.5 819.7 L1017.1 819.7 L1019.3 819.7 L1028.9 1069.3 L1031.1 1069.3 L1040.7 1068.9 L1042.9 1068.9 L1052.5 1066.4 L1054.7 1066.4 L1064.3 1063.9 L1066.5 1063.9 L1076.1 1061.4 L1078.3 1061.4 L1087.9 1060.3 L1090.1 1060.3 L1099.7 784.7 L1101.9 784.7 L1111.5 1058.8 L1113.7 1058.8 L1123.3 1058.8 L1125.5 1058.8 L1135.1 1058.8 L1137.3 1058.8 L1146.9 1058.8 L1149.1 1058.8 L1158.7 1056.3 L1160.9 1056.3 L1170.5 1046.2 L1172.7 1046.2 L1182.3 1043.7 L1184.5 1043.7 L1194.1 1042.3 L1196.3 1042.3 L1205.9 1043.7 L1208.1 1043.7 L1217.7 1042.6 L1219.9 1042.6 L1229.5 1040.8 L1231.7 1040.8 L1241.3 849.7 L1243.5 849.7 L1253.1 848.6 L1255.3 848.6 L1264.9 847.1 L1267.1 847.1 L1276.7 843.5 L1278.9 843.5 L1288.5 843.5 L1290.7 843.5 L1300.3 843.5 L1302.5 843.5 L1312.1 837.4 L1314.3 837.4 L1323.9 824.8 L1326.1 824.8 L1335.7 751.2 L1337.9 751.2 L1347.5 753.7 L1349.7 753.7 L1359.3 746.1 L1361.5 746.1 L1371.1 751.2 L1373.3 751.2 L1382.9 722.3 L1385.1 722.3 L1394.7 737.5 L1396.9 737.5 L1406.5 740.0 L1408.7 740.0 L1418.3 735.0 L1420.5 735.0 L1430.1 735.0 L1432.3 735.0 L1441.9 729.9 L1444.1 729.9 L1453.7 719.8 L1455.9 719.8 L1465.5 705.0 L1467.7 705.0 L1477.3 632.5 L1479.5 632.5 L1489.1 631.8 L1491.3 631.8 L1500.9 630.7 L1503.1 630.7 L1512.7 631.8 L1514.9 631.8 L1524.5 631.1 L1526.7 631.1 L1536.3 635.4 L1538.5 635.4 L1548.1 635.4 L1550.3 635.4 L1559.9 734.6 L1562.1 734.6 L1571.7 490.1 L1573.9 490.1 L1583.5 498.7 L1585.7 498.7 L1595.3 482.5 L1597.5 482.5 L1607.1 501.3 L1609.3 501.3 L1618.9 499.8 L1621.1 499.8 L1630.7 485.0 L1632.9 485.0 L1642.5 469.9 L1644.7 469.9 L1654.3 242.3 L1656.5 242.3 L1666.1 487.5 L1668.3 487.5 L1677.9 457.3 L1680.1 457.3 L1689.7 437.4 L1691.9 437.4 L1701.5 429.8 L1703.7 429.8 L1713.3 426.2 L1715.5 426.2 L1725.1 397.4 L1727.3 397.4 L1736.9 396.3 L1739.1 396.3 L1748.7 402.4 L1750.9 402.4 L1760.5 408.6 L1762.7 408.6 L1772.3 317.0 L1774.5 317.0 L1784.1 410.0 L1786.3 410.0 L1795.9 408.6 L1798.1 408.6 L1807.7 398.8 L1809.9 398.8 L1819.5 397.4 L1821.7 397.4 L1831.3 377.5 L1833.5 377.5 L1843.1 337.5 L1845.3 337.5 L1854.9 326.3 L1857.1 326.3 L1866.7 319.8 L1868.9 319.8 L1878.5 322.4 L1880.7 322.4 L1890.3 335.0 L1892.5 335.0 L1902.1 297.5 L1904.3 297.5 L1913.9 317.3 L1916.1 317.3 L1925.7 326.3 L1927.9 326.3 L1937.5 241.2 L1939.7 241.2 L1949.3 247.3 L1951.5 247.3 L1961.1 272.6 L1963.3 272.6 L1972.9 240.1 L1975.1 240.1 L1984.7 256.4 L1986.9 256.4 L1996.5 247.3 L1998.7 247.3 L2008.3 202.6 L2009.4 202.6"/>
<path class="ln" stroke="#7f64a0" d="M119.7 1102.5 L122.5 1102.5 L132.1 1102.5 L134.3 1102.5 L143.9 1103.2 L146.1 1103.2 L155.7 1102.5 L157.9 1102.5 L167.5 1102.5 L169.7 1102.5 L179.3 1034.0 L181.5 1034.0 L191.1 1021.3 L193.3 1021.3 L202.9 988.9 L205.1 988.9 L214.7 1093.5 L216.9 1093.5 L226.5 987.4 L228.7 987.4 L238.3 991.4 L240.5 991.4 L250.1 993.2 L252.3 993.2 L261.9 991.4 L264.1 991.4 L273.7 996.8 L275.9 996.8 L285.5 988.2 L287.7 988.2 L297.3 951.4 L299.5 951.4 L309.1 993.2 L311.3 993.2 L320.9 993.9 L323.1 993.9 L332.7 1091.3 L334.9 1091.3 L344.5 987.4 L346.7 987.4 L356.3 972.6 L358.5 972.6 L368.1 914.9 L370.3 914.9 L379.9 942.3 L382.1 942.3 L391.7 943.8 L393.9 943.8 L403.5 942.0 L405.7 942.0 L415.3 940.5 L417.5 940.5 L427.1 939.8 L429.3 939.8 L438.9 938.0 L441.1 938.0 L450.7 1091.7 L452.9 1091.7 L462.5 938.7 L464.7 938.7 L474.3 1097.1 L476.5 1097.1 L486.1 933.7 L488.3 933.7 L497.9 1097.1 L500.1 1097.1 L509.7 963.6 L511.9 963.6 L521.5 1093.5 L523.7 1093.5 L533.3 960.0 L535.5 960.0 L545.1 957.9 L547.3 957.9 L556.9 1093.5 L559.1 1093.5 L568.7 897.3 L570.9 897.3 L580.5 868.4 L582.7 868.4 L592.3 1089.9 L594.5 1089.9 L604.1 951.4 L606.3 951.4 L615.9 1082.6 L618.1 1082.6 L627.7 1082.6 L629.9 1082.6 L639.5 895.1 L641.7 895.1 L651.3 1082.6 L653.5 1082.6 L663.1 1082.6 L665.3 1082.6 L674.9 893.7 L677.1 893.7 L686.7 1079.0 L688.9 1079.0 L698.5 1079.0 L700.7 1079.0 L710.3 1079.0 L712.5 1079.0 L722.1 1079.0 L724.3 1079.0 L733.9 868.0 L736.1 868.0 L745.7 1087.7 L747.9 1087.7 L757.5 824.0 L759.7 824.0 L769.3 866.2 L771.5 866.2 L781.1 864.8 L783.3 864.8 L792.9 1079.4 L795.1 1079.4 L804.7 1079.8 L806.9 1079.8 L816.5 1075.4 L818.7 1075.4 L828.3 1081.6 L830.5 1081.6 L840.1 1081.6 L842.3 1081.6 L851.9 856.1 L854.1 856.1 L863.7 1077.6 L865.9 1077.6 L875.5 1072.5 L877.7 1072.5 L887.3 1073.6 L889.5 1073.6 L899.1 1080.1 L901.3 1080.1 L910.9 1080.1 L913.1 1080.1 L922.7 1072.9 L924.9 1072.9 L934.5 1077.6 L936.7 1077.6 L946.3 1077.6 L948.5 1077.6 L958.1 1071.1 L960.3 1071.1 L969.9 1072.9 L972.1 1072.9 L981.7 825.9 L983.9 825.9 L993.5 823.3 L995.7 823.3 L1005.3 819.7 L1007.5 819.7 L1017.1 819.7 L1019.3 819.7 L1028.9 1069.3 L1031.1 1069.3 L1040.7 1068.9 L1042.9 1068.9 L1052.5 1066.4 L1054.7 1066.4 L1064.3 1063.9 L1066.5 1063.9 L1076.1 1061.4 L1078.3 1061.4 L1087.9 1060.3 L1090.1 1060.3 L1099.7 784.7 L1101.9 784.7 L1111.5 1058.8 L1113.7 1058.8 L1123.3 1058.8 L1125.5 1058.8 L1135.1 1058.8 L1137.3 1058.8 L1146.9 1058.8 L1149.1 1058.8 L1158.7 1056.3 L1160.9 1056.3 L1170.5 1046.2 L1172.7 1046.2 L1182.3 1043.7 L1184.5 1043.7 L1194.1 1042.3 L1196.3 1042.3 L1205.9 1043.7 L1208.1 1043.7 L1217.7 1042.6 L1219.9 1042.6 L1229.5 1040.8 L1231.7 1040.8 L1241.3 849.7 L1243.5 849.7 L1253.1 848.6 L1255.3 848.6 L1264.9 847.1 L1267.1 847.1 L1276.7 843.5 L1278.9 843.5 L1288.5 843.5 L1290.7 843.5 L1300.3 843.5 L1302.5 843.5 L1312.1 837.4 L1314.3 837.4 L1323.9 824.8 L1326.1 824.8 L1335.7 751.2 L1337.9 751.2 L1347.5 753.7 L1349.7 753.7 L1359.3 746.1 L1361.5 746.1 L1371.1 751.2 L1373.3 751.2 L1382.9 722.3 L1385.1 722.3 L1394.7 737.5 L1396.9 737.5 L1406.5 740.0 L1408.7 740.0 L1418.3 735.0 L1420.5 735.0 L1430.1 735.0 L1432.3 735.0 L1441.9 729.9 L1444.1 729.9 L1453.7 719.8 L1455.9 719.8 L1465.5 705.0 L1467.7 705.0 L1477.3 632.5 L1479.5 632.5 L1489.1 631.8 L1491.3 631.8 L1500.9 630.7 L1503.1 630.7 L1512.7 631.8 L1514.9 631.8 L1524.5 631.1 L1526.7 631.1 L1536.3 635.4 L1538.5 635.4 L1548.1 635.4 L1550.3 635.4 L1559.9 734.6 L1562.1 734.6 L1571.7 490.1 L1573.9 490.1 L1583.5 498.7 L1585.7 498.7 L1595.3 482.5 L1597.5 482.5 L1607.1 501.3 L1609.3 501.3 L1618.9 499.8 L1621.1 499.8 L1630.7 485.0 L1632.9 485.0 L1642.5 469.9 L1644.7 469.9 L1654.3 242.3 L1656.5 242.3 L1666.1 487.5 L1668.3 487.5 L1677.9 457.3 L1680.1 457.3 L1689.7 437.4 L1691.9 437.4 L1701.5 429.8 L1703.7 429.8 L1713.3 426.2 L1715.5 426.2 L1725.1 397.4 L1727.3 397.4 L1736.9 396.3 L1739.1 396.3 L1748.7 402.4 L1750.9 402.4 L1760.5 408.6 L1762.7 408.6 L1772.3 317.0 L1774.5 317.0 L1784.1 410.0 L1786.3 410.0 L1795.9 408.6 L1798.1 408.6 L1807.7 398.8 L1809.9 398.8 L1819.5 397.4 L1821.7 397.4 L1831.3 377.5 L1833.5 377.5 L1843.1 337.5 L1845.3 337.5 L1854.9 326.3 L1857.1 326.3 L1866.7 319.8 L1868.9 319.8 L1878.5 322.4 L1880.7 322.4 L1890.3 335.0 L1892.5 335.0 L1902.1 297.5 L1904.3 297.5 L1913.9 317.3 L1916.1 317.3 L1925.7 326.3 L1927.9 326.3 L1937.5 241.2 L1939.7 241.2 L1949.3 247.3 L1951.5 247.3 L1961.1 272.6 L1963.3 272.6 L1972.9 240.1 L1975.1 240.1 L1984.7 256.4 L1986.9 256.4 L1996.5 247.3 L1998.7 247.3 L2008.3 202.6 L2009.4 202.6"/>
</g>
<g filter="url(#softa)" stroke="#a8a8a8" fill="none">
<path stroke-width="2.4" d="M115.5 28.5 V1123.5"/>
<path stroke-width="2.2" stroke="#b4b4b4" d="M101.5 1111.5 H2015.8"/>
<path stroke-width="2" stroke="#b4b4b4" d="M101.5 931.2 H115.5M101.5 750.8 H115.5M101.5 570.5 H115.5M101.5 390.2 H115.5M101.5 209.8 H115.5M101.5 29.5 H115.5"/>
<path stroke-width="2.3" stroke="#b2b2b2" d="M127.3 1111.5 v12M139.1 1111.5 v12M150.9 1111.5 v12M162.7 1111.5 v12M174.5 1111.5 v12M186.3 1111.5 v12M198.1 1111.5 v12M209.9 1111.5 v12M221.7 1111.5 v12M233.5 1111.5 v12M245.3 1111.5 v12M257.1 1111.5 v12M268.9 1111.5 v12M280.7 1111.5 v12M292.5 1111.5 v12M304.3 1111.5 v12M316.1 1111.5 v12M327.9 1111.5 v12M339.7 1111.5 v12M351.5 1111.5 v12M363.3 1111.5 v12M375.1 1111.5 v12M386.9 1111.5 v12M398.7 1111.5 v12M410.5 1111.5 v12M422.3 1111.5 v12M434.1 1111.5 v12M445.9 1111.5 v12M457.7 1111.5 v12M469.5 1111.5 v12M481.3 1111.5 v12M493.1 1111.5 v12M504.9 1111.5 v12M516.7 1111.5 v12M528.5 1111.5 v12M540.3 1111.5 v12M552.1 1111.5 v12M563.9 1111.5 v12M575.7 1111.5 v12M587.5 1111.5 v12M599.3 1111.5 v12M611.1 1111.5 v12M622.9 1111.5 v12M634.7 1111.5 v12M646.5 1111.5 v12M658.3 1111.5 v12M670.1 1111.5 v12M681.9 1111.5 v12M693.7 1111.5 v12M705.5 1111.5 v12M717.3 1111.5 v12M729.1 1111.5 v12M740.9 1111.5 v12M752.7 1111.5 v12M764.5 1111.5 v12M776.3 1111.5 v12M788.1 1111.5 v12M799.9 1111.5 v12M811.7 1111.5 v12M823.5 1111.5 v12M835.3 1111.5 v12M847.1 1111.5 v12M858.9 1111.5 v12M870.7 1111.5 v12M882.5 1111.5 v12M894.3 1111.5 v12M906.1 1111.5 v12M917.9 1111.5 v12M929.7 1111.5 v12M941.5 1111.5 v12M953.3 1111.5 v12M965.1 1111.5 v12M976.9 1111.5 v12M988.7 1111.5 v12M1000.5 1111.5 v12M1012.3 1111.5 v12M1024.1 1111.5 v12M1035.9 1111.5 v12M1047.7 1111.5 v12M1059.5 1111.5 v12M1071.3 1111.5 v12M1083.1 1111.5 v12M1094.9 1111.5 v12M1106.7 1111.5 v12M1118.5 1111.5 v12M1130.3 1111.5 v12M1142.1 1111.5 v12M1153.9 1111.5 v12M1165.7 1111.5 v12M1177.5 1111.5 v12M1189.3 1111.5 v12M1201.1 1111.5 v12M1212.9 1111.5 v12M1224.7 1111.5 v12M1236.5 1111.5 v12M1248.3 1111.5 v12M1260.1 1111.5 v12M1271.9 1111.5 v12M1283.7 1111.5 v12M1295.5 1111.5 v12M1307.3 1111.5 v12M1319.1 1111.5 v12M1330.9 1111.5 v12M1342.7 1111.5 v12M1354.5 1111.5 v12M1366.3 1111.5 v12M1378.1 1111.5 v12M1389.9 1111.5 v12M1401.7 1111.5 v12M1413.5 1111.5 v12M1425.3 1111.5 v12M1437.1 1111.5 v12M1448.9 1111.5 v12M1460.7 1111.5 v12M1472.5 1111.5 v12M1484.3 1111.5 v12M1496.1 1111.5 v12M1507.9 1111.5 v12M1519.7 1111.5 v12M1531.5 1111.5 v12M1543.3 1111.5 v12M1555.1 1111.5 v12M1566.9 1111.5 v12M1578.7 1111.5 v12M1590.5 1111.5 v12M1602.3 1111.5 v12M1614.1 1111.5 v12M1625.9 1111.5 v12M1637.7 1111.5 v12M1649.5 1111.5 v12M1661.3 1111.5 v12M1673.1 1111.5 v12M1684.9 1111.5 v12M1696.7 1111.5 v12M1708.5 1111.5 v12M1720.3 1111.5 v12M1732.1 1111.5 v12M1743.9 1111.5 v12M1755.7 1111.5 v12M1767.5 1111.5 v12M1779.3 1111.5 v12M1791.1 1111.5 v12M1802.9 1111.5 v12M1814.7 1111.5 v12M1826.5 1111.5 v12M1838.3 1111.5 v12M1850.1 1111.5 v12M1861.9 1111.5 v12M1873.7 1111.5 v12M1885.5 1111.5 v12M1897.3 1111.5 v12M1909.1 1111.5 v12M1920.9 1111.5 v12M1932.7 1111.5 v12M1944.5 1111.5 v12M1956.3 1111.5 v12M1968.1 1111.5 v12M1979.9 1111.5 v12M1991.7 1111.5 v12M2003.5 1111.5 v12M2015.3 1111.5 v12"/>
</g>
<g class="ax" filter="url(#softt)" text-anchor="end">
<text x="84" y="1123.1" textLength="16.4" lengthAdjust="spacingAndGlyphs">0</text>
<text x="84" y="942.8" textLength="32.7" lengthAdjust="spacingAndGlyphs">50</text>
<text x="84" y="762.4" textLength="49.1" lengthAdjust="spacingAndGlyphs">100</text>
<text x="84" y="582.1" textLength="49.1" lengthAdjust="spacingAndGlyphs">150</text>
<text x="84" y="401.8" textLength="49.1" lengthAdjust="spacingAndGlyphs">200</text>
<text x="84" y="221.4" textLength="49.1" lengthAdjust="spacingAndGlyphs">250</text>
<text x="84" y="41.1" textLength="49.1" lengthAdjust="spacingAndGlyphs">300</text>
</g>
<g class="ax" filter="url(#softt)" text-anchor="end">
<text transform="translate(132.4 1137) rotate(-90)" textLength="16.4" lengthAdjust="spacingAndGlyphs">1</text>
<text transform="translate(179.6 1137) rotate(-90)" textLength="16.4" lengthAdjust="spacingAndGlyphs">5</text>
<text transform="translate(226.8 1137) rotate(-90)" textLength="16.4" lengthAdjust="spacingAndGlyphs">9</text>
<text transform="translate(274.0 1137) rotate(-90)" textLength="32.7" lengthAdjust="spacingAndGlyphs">13</text>
<text transform="translate(321.2 1137) rotate(-90)" textLength="32.7" lengthAdjust="spacingAndGlyphs">17</text>
<text transform="translate(368.4 1137) rotate(-90)" textLength="32.7" lengthAdjust="spacingAndGlyphs">21</text>
<text transform="translate(415.6 1137) rotate(-90)" textLength="32.7" lengthAdjust="spacingAndGlyphs">25</text>
<text transform="translate(462.8 1137) rotate(-90)" textLength="32.7" lengthAdjust="spacingAndGlyphs">29</text>
<text transform="translate(510.0 1137) rotate(-90)" textLength="32.7" lengthAdjust="spacingAndGlyphs">33</text>
<text transform="translate(557.2 1137) rotate(-90)" textLength="32.7" lengthAdjust="spacingAndGlyphs">37</text>
<text transform="translate(604.4 1137) rotate(-90)" textLength="32.7" lengthAdjust="spacingAndGlyphs">41</text>
<text transform="translate(651.6 1137) rotate(-90)" textLength="32.7" lengthAdjust="spacingAndGlyphs">45</text>
<text transform="translate(698.8 1137) rotate(-90)" textLength="32.7" lengthAdjust="spacingAndGlyphs">49</text>
<text transform="translate(746.0 1137) rotate(-90)" textLength="32.7" lengthAdjust="spacingAndGlyphs">53</text>
<text transform="translate(793.2 1137) rotate(-90)" textLength="32.7" lengthAdjust="spacingAndGlyphs">57</text>
<text transform="translate(840.4 1137) rotate(-90)" textLength="32.7" lengthAdjust="spacingAndGlyphs">61</text>
<text transform="translate(887.6 1137) rotate(-90)" textLength="32.7" lengthAdjust="spacingAndGlyphs">65</text>
<text transform="translate(934.8 1137) rotate(-90)" textLength="32.7" lengthAdjust="spacingAndGlyphs">69</text>
<text transform="translate(982.0 1137) rotate(-90)" textLength="32.7" lengthAdjust="spacingAndGlyphs">73</text>
<text transform="translate(1029.2 1137) rotate(-90)" textLength="32.7" lengthAdjust="spacingAndGlyphs">77</text>
<text transform="translate(1076.4 1137) rotate(-90)" textLength="32.7" lengthAdjust="spacingAndGlyphs">81</text>
<text transform="translate(1123.6 1137) rotate(-90)" textLength="32.7" lengthAdjust="spacingAndGlyphs">85</text>
<text transform="translate(1170.8 1137) rotate(-90)" textLength="32.7" lengthAdjust="spacingAndGlyphs">89</text>
<text transform="translate(1218.0 1137) rotate(-90)" textLength="32.7" lengthAdjust="spacingAndGlyphs">93</text>
<text transform="translate(1265.2 1137) rotate(-90)" textLength="32.7" lengthAdjust="spacingAndGlyphs">97</text>
<text transform="translate(1312.4 1137) rotate(-90)" textLength="49.1" lengthAdjust="spacingAndGlyphs">101</text>
<text transform="translate(1359.6 1137) rotate(-90)" textLength="49.1" lengthAdjust="spacingAndGlyphs">105</text>
<text transform="translate(1406.8 1137) rotate(-90)" textLength="49.1" lengthAdjust="spacingAndGlyphs">109</text>
<text transform="translate(1454.0 1137) rotate(-90)" textLength="49.1" lengthAdjust="spacingAndGlyphs">113</text>
<text transform="translate(1501.2 1137) rotate(-90)" textLength="49.1" lengthAdjust="spacingAndGlyphs">117</text>
<text transform="translate(1548.4 1137) rotate(-90)" textLength="49.1" lengthAdjust="spacingAndGlyphs">121</text>
<text transform="translate(1595.6 1137) rotate(-90)" textLength="49.1" lengthAdjust="spacingAndGlyphs">125</text>
<text transform="translate(1642.8 1137) rotate(-90)" textLength="49.1" lengthAdjust="spacingAndGlyphs">129</text>
<text transform="translate(1690.0 1137) rotate(-90)" textLength="49.1" lengthAdjust="spacingAndGlyphs">133</text>
<text transform="translate(1737.2 1137) rotate(-90)" textLength="49.1" lengthAdjust="spacingAndGlyphs">137</text>
<text transform="translate(1784.4 1137) rotate(-90)" textLength="49.1" lengthAdjust="spacingAndGlyphs">141</text>
<text transform="translate(1831.6 1137) rotate(-90)" textLength="49.1" lengthAdjust="spacingAndGlyphs">145</text>
<text transform="translate(1878.8 1137) rotate(-90)" textLength="49.1" lengthAdjust="spacingAndGlyphs">149</text>
<text transform="translate(1927.0 1137) rotate(-90)" textLength="49.1" lengthAdjust="spacingAndGlyphs">153</text>
<text transform="translate(1974.2 1137) rotate(-90)" textLength="49.1" lengthAdjust="spacingAndGlyphs">157</text>
<text transform="translate(2022.8 1137) rotate(-90)" textLength="49.1" lengthAdjust="spacingAndGlyphs">161</text>
</g>
<g filter="url(#soft)" fill="none">
<path stroke="#7f64a0" stroke-width="10" stroke-opacity="0.33" d="M379.5 185.9 H444.5"/>
<path stroke="#7f64a0" stroke-width="5.8999999999999995" d="M378.5 185.9 H445.5"/>
<path stroke="#8eb94f" stroke-width="10" stroke-opacity="0.33" d="M379.5 250.0 H444.5"/>
<path stroke="#8eb94f" stroke-width="5.8999999999999995" d="M378.5 250.0 H445.5"/>
<path stroke="#d0443f" stroke-width="10" stroke-opacity="0.33" d="M379.5 311.7 H444.5"/>
<path stroke="#d0443f" stroke-width="5.8999999999999995" d="M378.5 311.7 H445.5"/>
<path stroke="#2c7cb9" stroke-width="10" stroke-opacity="0.33" d="M379.5 375.3 H444.5"/>
<path stroke="#2c7cb9" stroke-width="5.8999999999999995" d="M378.5 375.3 H445.5"/>
</g>
<g class="lg" filter="url(#softt)">
<text x="479.9" y="196.0" textLength="65" lengthAdjust="spacingAndGlyphs">ema</text>
<text class="sub" x="548.4" y="204.8" textLength="58.0" lengthAdjust="spacingAndGlyphs">0.001</text>
<text class="cap" x="609.2" y="196.0" textLength="65.5" lengthAdjust="spacingAndGlyphs">I_S1</text>
<text x="477.4" y="261.8" textLength="65" lengthAdjust="spacingAndGlyphs">ema</text>
<text class="sub" x="545.6" y="270.6" textLength="46.0" lengthAdjust="spacingAndGlyphs">0.01</text>
<text class="cap" x="593.0" y="261.8" textLength="65.5" lengthAdjust="spacingAndGlyphs">I_S1</text>
<text x="477.4" y="321.9" textLength="65" lengthAdjust="spacingAndGlyphs">ema</text>
<text class="sub" x="546.4" y="330.7" textLength="33.0" lengthAdjust="spacingAndGlyphs">0.1</text>
<text class="cap" x="579.3" y="321.9" textLength="65.5" lengthAdjust="spacingAndGlyphs">I_S1</text>
<text class="bar" transform="translate(494.8 381.0) scale(0.68 0.97)">‖</text>
<text class="math" x="507.2" y="378.4" textLength="37.5" lengthAdjust="spacingAndGlyphs">Δ<tspan font-style="italic">R</tspan></text>
<text class="bar" transform="translate(543.6 381.0) scale(0.68 0.97)">‖</text>
</g>
</svg>
</body>
</html>
